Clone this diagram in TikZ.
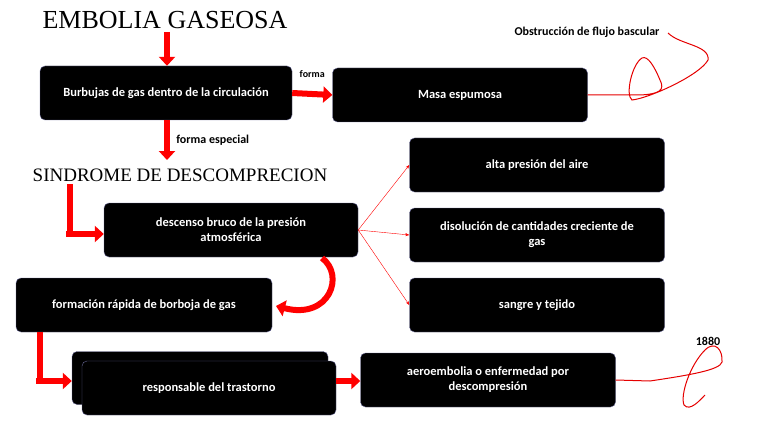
\documentclass[tikz,border=0pt]{standalone}
\usepackage{fontspec}
\setmainfont{Carlito}
\newfontfamily\serifT{Liberation Serif}
\usetikzlibrary{arrows.meta}
\begin{document}
\begin{tikzpicture}[x=1pt,y=-1pt,
 box/.style={fill=black,draw=black!70!blue!60,rounded corners=5pt,text=white,font=\bfseries\fontsize{12.5}{15}\selectfont,align=center},
 big/.style={draw=red,line width=6pt,-{Triangle[width=16pt,length=9pt]}},
 thin/.style={draw=red,-{Stealth[length=4pt]}},
 scrib/.style={draw=red!90!black,line width=1pt},
 lbl/.style={font=\bfseries\fontsize{12}{14}\selectfont}]
\useasboundingbox (0,0) rectangle (768,433);
\node[font=\serifT\fontsize{26}{28}\selectfont] (t1) at (165,20) {EMBOLIA GASEOSA};
\node[font=\serifT\fontsize{19}{21}\selectfont] (t2) at (180,175) {SINDROME DE DESCOMPRECION};
\node[box,minimum width=252pt,minimum height=54pt] (b1) at (166,93) {Burbujas de gas dentro de la circulación};
\node[box,minimum width=255pt,minimum height=54pt] (b2) at (460,95) {Masa espumosa};
\node[box,minimum width=254pt,minimum height=54pt] (de) at (231,230) {descenso bruco de la presión\\atmosférica};
\node[box,minimum width=256pt,minimum height=54pt] (fo) at (144,305) {formación rápida de borboja de gas};
\node[box,minimum width=256pt,minimum height=53pt] (rb) at (200,378) {};
\node[box,minimum width=254pt,minimum height=54pt] (re) at (209,388) {responsable del trastorno};
\node[box,minimum width=255pt,minimum height=54pt] (ae) at (488,380) {aeroembolia o enfermedad por\\descompresión};
\node[box,minimum width=255pt,minimum height=54pt] (al) at (537,165) {alta presión del aire};
\node[box,minimum width=255pt,minimum height=54pt] (di) at (537,235) {disolución de cantidades creciente de\\gas};
\node[box,minimum width=255pt,minimum height=54pt] (sa) at (537,305) {sangre y tejido};
\node[lbl] (ob) at (587,32) {Obstrucción de flujo bascular};
\node[lbl] (yr) at (708,341) {1880};
\draw[big] (167,32) -- (b1.north -| 167,0);
\draw[big] (b1.south -| 167,0) -- (167,160) node[lbl,midway,right,xshift=3pt] {forma especial};
\draw[big] (b1.east) -- (b2.west) node[midway,above,yshift=10pt,font=\bfseries\fontsize{10}{12}\selectfont] {forma};
\draw[big,-] (70,184) |- (95,234);
\draw[big] (66,234) -- (de.west |- 0,234);
\draw[big,-] (40,332) |- (65,381);
\draw[big] (36,381) -- (rb.west |- 0,381);
\draw[big] (re.east |- 0,381) -- (ae.west |- 0,381);
\draw[draw=red,line width=6pt,-{Triangle[width=16pt,length=9pt]}] (322,258) .. controls (345,275) and (330,320) .. (276,306);
\draw[thin] (de.east) -- (al.west);
\draw[thin] (de.east) -- (di.west);
\draw[thin] (de.east) -- (sa.west);
\draw[scrib] (b2.east) -- (640,95) .. controls (660,94) and (665,90) .. (660,80)
  .. controls (655,68) and (648,55) .. (642,58) .. controls (632,64) and (625,95) .. (632,100)
  .. controls (650,98) and (700,75) .. (708,60) .. controls (710,45) and (680,45) .. (668,33);
\draw[scrib] (ae.east) -- (650,381) .. controls (690,375) and (720,370) .. (722,362)
  .. controls (723,350) and (715,340) .. (705,350) .. controls (690,365) and (680,395) .. (684,405)
  .. controls (690,412) and (700,400) .. (705,395);
\end{tikzpicture}
\end{document}
